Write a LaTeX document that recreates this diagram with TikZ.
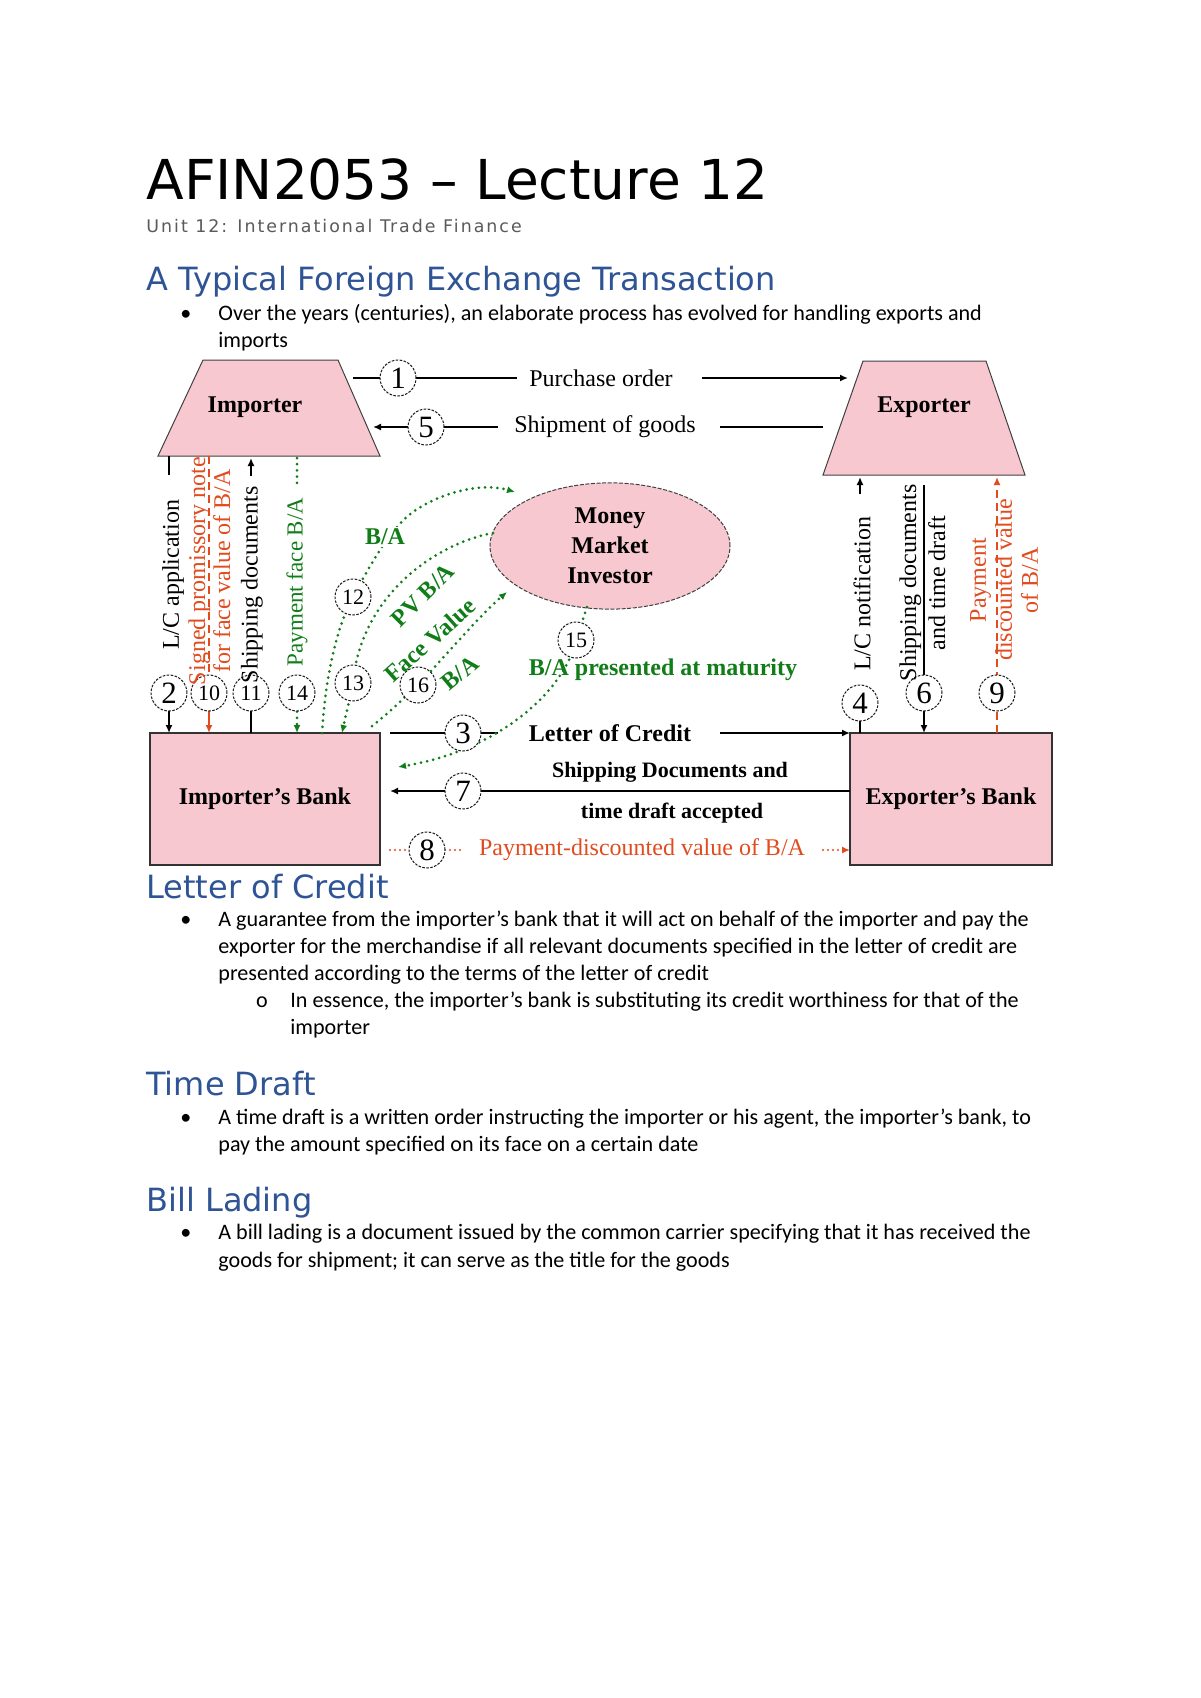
\documentclass[tikz,border=0pt]{standalone}
\usepackage{fontspec}
\setmainfont{Carlito}
\newfontfamily\djv{DejaVu Sans}
\newfontfamily\djvsp[LetterSpace=11.5]{DejaVu Sans}
\newfontfamily\tms{Liberation Serif}
\usetikzlibrary{arrows.meta,shapes.geometric}
\definecolor{pinkf}{RGB}{248,200,208}
\definecolor{gr}{RGB}{16,125,24}
\definecolor{rd}{RGB}{225,75,30}
\definecolor{hblue}{RGB}{47,84,150}
\definecolor{subg}{RGB}{90,90,90}
\tikzset{
  num/.style={circle, draw=black!90, dash pattern=on 1.3pt off 0.7pt, line width=0.5pt, fill=white, minimum size=18pt, inner sep=0pt, font=\tms\fontsize{15.5}{15.5}\selectfont},
  numb/.style={num, font=\tms\fontsize{11}{11}\selectfont},
  blk/.style={line width=1pt, black},
  arr/.style={-{Latex[length=4pt,width=3.5pt]}},
  gdot/.style={draw=gr, line width=1.5pt, line cap=round, dash pattern=on 0pt off 3.1pt},
  rdash/.style={draw=rd, line width=0.8pt, dash pattern=on 4pt off 2.5pt},
  rdot/.style={draw=rd, line width=1.1pt, line cap=round, dash pattern=on 0pt off 2.5pt},
  shapeb/.style={fill=pinkf, draw=black!75, line width=0.5pt},
  lbl/.style={font=\tms\fontsize{12}{14}\selectfont, inner sep=1pt},
  blbl/.style={font=\tms\bfseries\fontsize{12}{14}\selectfont, inner sep=1pt},
  glbl/.style={font=\tms\bfseries\fontsize{12}{14}\selectfont, inner sep=1pt, text=gr},
  body/.style={anchor=base west, inner sep=0pt, font=\fontsize{11.05}{13}\selectfont},
  bul/.style={anchor=base, inner sep=0pt, font=\fontsize{11.05}{13}\selectfont},
  head/.style={anchor=base west, inner sep=0pt, text=hblue, font=\djv\fontsize{16}{18}\selectfont}
}
\begin{document}
\begin{tikzpicture}[x=0.5pt,y=-0.5pt]
\fill[white] (0,0) rectangle (1200,1698);
\useasboundingbox (0,0) rectangle (1200,1698);

% ---------- page text ----------
\node[anchor=base west, inner sep=0pt, font=\djv\fontsize{27.5}{30}\selectfont] (title) at (146,199) {AFIN2053 – Lecture 12};
\node[anchor=base west, inner sep=0pt, text=subg, font=\djvsp\fontsize{8.7}{10}\selectfont] (subt) at (146,232) {Unit 12: International Trade Finance};
\node[head] (h1) at (146,290) {A Typical Foreign Exchange Transaction};
\node[bul] (b1) at (186,320) {•};
\node[body] (t1a) at (218,320) {Over the years (centuries), an elaborate process has evolved for handling exports and};
\node[body] (t1b) at (218,347) {imports};

\node[head] (h2) at (146,898) {Letter of Credit};
\node[bul] (b2) at (186,926) {•};
\node[body] (t2a) at (218,926) {A guarantee from the importer’s bank that it will act on behalf of the importer and pay the};
\node[body] (t2b) at (218,953) {exporter for the merchandise if all relevant documents specified in the letter of credit are};
\node[body] (t2c) at (218,980) {presented according to the terms of the letter of credit};
\node[bul] (b3) at (262,1007) {o};
\node[body] (t3a) at (290,1007) {In essence, the importer’s bank is substituting its credit worthiness for that of the};
\node[body] (t3b) at (290,1034) {importer};

\node[head] (h3) at (146,1095) {Time Draft};
\node[bul] (b4) at (186,1124) {•};
\node[body] (t4a) at (218,1124) {A time draft is a written order instructing the importer or his agent, the importer’s bank, to};
\node[body] (t4b) at (218,1151) {pay the amount specified on its face on a certain date};

\node[head] (h4) at (146,1211) {Bill Lading};
\node[bul] (b5) at (186,1239) {•};
\node[body] (t5a) at (218,1239) {A bill lading is a document issued by the common carrier specifying that it has received the};
\node[body] (t5b) at (218,1267) {goods for shipment; it can serve as the title for the goods};

% ---------- main shapes ----------
\draw[shapeb] (203,360) -- (338,360) -- (380,456) -- (158,456) -- cycle;
\node[blbl] (imp) at (255,407) {Importer};
\draw[shapeb] (863,361) -- (986,361) -- (1025,475) -- (823,475) -- cycle;
\node[blbl] (exp) at (924,407) {Exporter};
\node[ellipse, shapeb, dash pattern=on 2pt off 0.8pt, minimum width=120pt, minimum height=62pt, align=center, font=\tms\bfseries\fontsize{12}{15}\selectfont] (mmi) at (610,546) {Money\\Market\\Investor};
\node[draw=black!80, fill=pinkf, line width=0.6pt, minimum width=115pt, minimum height=66pt, blbl] (bi) at (265,799) {Importer’s Bank};
\node[draw=black!80, fill=pinkf, line width=0.6pt, minimum width=101pt, minimum height=66pt, blbl] (be) at (951,799) {Exporter’s Bank};

% ---------- circle positions ----------
\coordinate (c1) at (398,378);
\coordinate (c5) at (426,427);
\coordinate (c2) at (169,693);
\coordinate (c10) at (209,693);
\coordinate (c11) at (251,693);
\coordinate (c14) at (297,693);
\coordinate (c12) at (353,597);
\coordinate (c13) at (353,683);
\coordinate (c16) at (418,685);
\coordinate (c15) at (576,640);
\coordinate (c3) at (463,733);
\coordinate (c7) at (463,791);
\coordinate (c8) at (427,850);
\coordinate (c4) at (860,703);
\coordinate (c6) at (924,693);
\coordinate (c9) at (997,693);

% ---------- horizontal text labels ----------
\node[lbl] (po) at (601,378) {Purchase order};
\node[lbl] (sg) at (605,427) {Shipment of goods};
\node[blbl] (loc) at (610,733) {Letter of Credit};
\node[font=\tms\bfseries\fontsize{11}{13}\selectfont, inner sep=1pt] (sd1) at (670,772) {Shipping Documents and};
\node[font=\tms\bfseries\fontsize{11}{13}\selectfont, inner sep=1pt] (sd2) at (672,813) {time draft accepted};
\node[lbl, text=rd] (pd) at (642,850) {Payment-discounted value of B/A};

% ---------- connector end points ----------
\coordinate (p1a) at (353,378);
\coordinate (p1b) at (517,378);
\coordinate (p1c) at (702,378);
\coordinate (p1d) at (848,378);
\coordinate (p5a) at (373,427);
\coordinate (p5b) at (498,427);
\coordinate (p5c) at (720,427);
\coordinate (p5d) at (823,427);
\coordinate (p3a) at (390,733);
\coordinate (p3b) at (498,733);
\coordinate (p3c) at (720,733);
\coordinate (p3d) at (850,733);
\coordinate (p7a) at (390,791);
\coordinate (p7d) at (850,791);
\coordinate (p8a) at (390,850);
\coordinate (p8b) at (462,850);
\coordinate (p8c) at (823,850);
\coordinate (p8d) at (850,850);

% ---------- connectors ----------
\draw[blk] (p1a) -- (c1) -- (p1b);
\draw[blk,arr] (p1c) -- (p1d);
\draw[blk,arr] (c5) -- (p5a);
\draw[blk] (c5) -- (p5b);
\draw[blk] (p5c) -- (p5d);
\draw[blk] (p3a) -- (c3) -- (p3b);
\draw[blk,arr] (p3c) -- (p3d);
\draw[blk] (p7d) -- (c7);
\draw[blk,arr] (c7) -- (p7a);
\draw[rdot] (p8a) -- (c8) -- (p8b);
\draw[rdot,arr] (p8c) -- (p8d);

% left verticals
\draw[blk] (169,456) -- (169,475);
\draw[blk,arr] (c2) -- (169,733);
\draw[rdash] (209,456) -- (c10);
\draw[draw=rd, line width=0.8pt, arr] (c10) -- (209,733);
\draw[blk,arr] (251,476) -- (251,458);
\draw[blk] (c11) -- (251,733);
\draw[gdot] (297,458) -- (297,483);
\draw[gdot,arr] (c14) -- (297,733);
% right verticals
\draw[blk] (860,733) -- (c4);
\draw[blk,arr] (860,494) -- (860,477);
\draw[blk] (924,485) -- (c6);
\draw[blk,arr] (c6) -- (924,733);
\draw[rdash] (997,733) -- (c9);
\draw[rdash,arr] (c9) -- (997,477);

% green curves
\draw[gdot,arr] (322,733) .. controls (326,670) and (338,625) .. (c12) .. controls (368,569) and (390,528) .. (413,512) .. controls (440,493) and (480,482) .. (515,492);
\draw[gdot,arr] (493,533) .. controls (430,545) and (360,600) .. (c13) -- (342,733);
\draw[gdot,arr] (372,726) .. controls (390,712) and (405,697) .. (c16) .. controls (440,662) and (480,615) .. (507,592);
\draw[gdot,arr] (587,607) -- (c15) .. controls (565,690) and (500,750) .. (398,767);

% ---------- numbered circles ----------
\node[num] (n1) at (c1) {1};
\node[num] (n5) at (c5) {5};
\node[num] (n2) at (c2) {2};
\node[numb] (n10) at (c10) {10};
\node[numb] (n11) at (c11) {11};
\node[numb] (n14) at (c14) {14};
\node[numb] (n12) at (c12) {12};
\node[numb] (n13) at (c13) {13};
\node[numb] (n16) at (c16) {16};
\node[numb] (n15) at (c15) {15};
\node[num] (n3) at (c3) {3};
\node[num] (n7) at (c7) {7};
\node[num] (n8) at (c8) {8};
\node[num] (n4) at (c4) {4};
\node[num] (n6) at (c6) {6};
\node[num] (n9) at (c9) {9};

% ---------- rotated labels ----------
\node[lbl, rotate=90] (lca) at (173,575) {L/C application};
\node[lbl, rotate=90, text=rd, align=center, font=\tms\fontsize{12}{12.5}\selectfont] (spn) at (209.5,571) {Signed promissory note\\for face value of B/A};
\node[lbl, rotate=90] (shd) at (252,585) {Shipping documents};
\node[lbl, rotate=90, text=gr, font=\tms\fontsize{11.5}{13}\selectfont] (pfb) at (297,582) {Payment face B/A};
\node[lbl, rotate=90] (lcn) at (862,594) {L/C notification};
\node[lbl, rotate=90, align=center, font=\tms\fontsize{12}{14.5}\selectfont] (sdt) at (922.5,583) {Shipping documents\\and time draft};
\node[lbl, rotate=90, align=center, text=rd, font=\tms\fontsize{12}{13}\selectfont] (pdv) at (1004,580) {Payment\\discounted value\\of B/A};

% green labels
\node[glbl, fill=white] (ba1) at (385,537) {B/A};
\node[glbl, rotate=45] (pvba) at (423,595) {PV B/A};
\node[glbl, rotate=42] (fv) at (430,640) {Face Value};
\node[glbl, rotate=40] (ba2) at (460,673) {B/A};
\node[glbl] (bapm) at (663,670) {B/A presented at maturity};
\end{tikzpicture}
\end{document}
